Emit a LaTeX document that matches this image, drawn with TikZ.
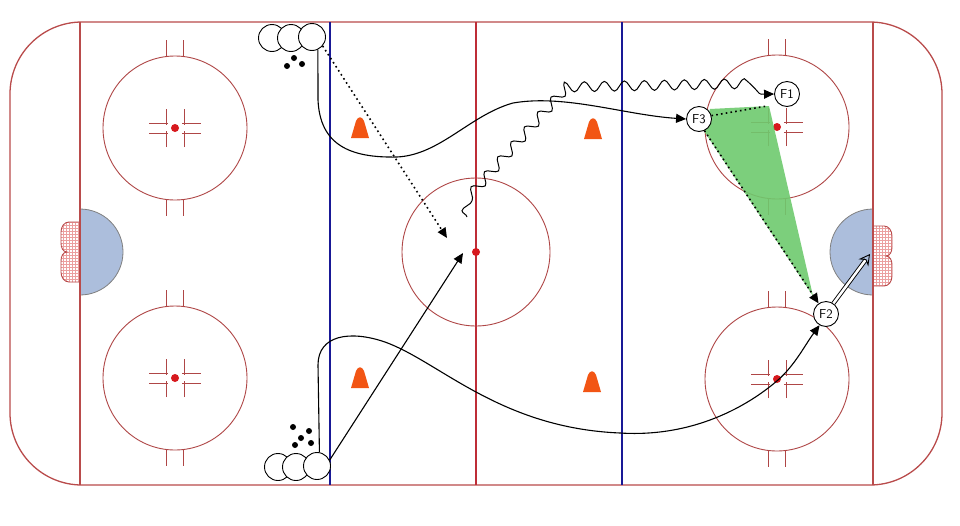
\documentclass[tikz,border=0pt]{standalone}
\usetikzlibrary{arrows.meta,decorations.pathmorphing,patterns}
\definecolor{rinkred}{RGB}{185,75,75}
\definecolor{circred}{RGB}{175,70,70}
\definecolor{dotred}{RGB}{215,25,30}
\definecolor{blueline}{RGB}{25,25,150}
\definecolor{centerred}{RGB}{190,45,55}
\definecolor{creaseblue}{RGB}{172,190,220}
\definecolor{passgreen}{RGB}{110,202,110}
\definecolor{coneorange}{RGB}{242,85,20}
\definecolor{netpink}{RGB}{235,160,160}
\begin{document}
\begin{tikzpicture}[x=1pt,y=-1pt,
  player/.style={circle, draw=black, fill=white, line width=0.9pt, minimum size=27pt, inner sep=0pt},
  fnode/.style={circle, draw=black, fill=white, line width=0.9pt, minimum size=25pt, inner sep=0pt, font=\sffamily\fontsize{13}{13}\selectfont},
  puck/.style={circle, fill=black, minimum size=6pt, inner sep=0pt},
  tip/.style={-{Triangle[length=10pt,width=9pt]}},
  skate/.style={draw=black, line width=1.1pt, tip},
  dotpass/.style={draw=black, line width=1.6pt, dash pattern=on 1.6pt off 3.2pt},
  wave/.style={draw=black, line width=1pt, tip, decorate, decoration={snake, amplitude=5pt, segment length=20pt, post length=12pt}},
  shot/.style={draw=black, line width=0.9pt, double=white, double distance=2.5pt, -{Stealth[open,length=11pt,width=12pt]}},
  faceoff/.pic={
    \draw[circred, line width=0.9pt] (0,0) circle[radius=72pt];
    \draw[circred, line width=0.9pt]
      (-8.5,-71) -- (-8.5,-88) (8.5,-71) -- (8.5,-88)
      (-8.5,71) -- (-8.5,88) (8.5,71) -- (8.5,88)
      (-26,-5) -- (-7,-5) (7,-5) -- (26,-5)
      (-26,5) -- (-7,5) (7,5) -- (26,5)
      (-9,-19) -- (-9,-3) (9,-19) -- (9,-3)
      (-9,19) -- (-9,3) (9,19) -- (9,3);
    \fill[dotred] (0,0) circle[radius=4pt];
  },
  cone/.pic={
    \fill[coneorange] (-9,10) -- (-4,-7) .. controls (-2,-12) and (2,-12) .. (4,-7) -- (9,10) -- cycle;
  },
  netL/.pic={
    \fill[white] (0,-30) -- (-11,-30) to[out=180,in=90] (-19,-20) -- (-19,-9) to[out=-90,in=180] (-13,0) to[out=180,in=90] (-19,9) -- (-19,20) to[out=-90,in=180] (-11,30) -- (0,30) -- cycle;
    \fill[pattern=grid, pattern color=netpink] (0,-30) -- (-11,-30) to[out=180,in=90] (-19,-20) -- (-19,-9) to[out=-90,in=180] (-13,0) to[out=180,in=90] (-19,9) -- (-19,20) to[out=-90,in=180] (-11,30) -- (0,30) -- cycle;
    \draw[rinkred, line width=0.9pt] (0,-30) -- (-11,-30) to[out=180,in=90] (-19,-20) -- (-19,-9) to[out=-90,in=180] (-13,0) to[out=180,in=90] (-19,9) -- (-19,20) to[out=-90,in=180] (-11,30) -- (0,30);
  },
  netR/.pic={
    \fill[white] (0,-30) -- (11,-30) to[out=0,in=90] (19,-20) -- (19,-9) to[out=-90,in=0] (13,0) to[out=0,in=90] (19,9) -- (19,20) to[out=-90,in=0] (11,30) -- (0,30) -- cycle;
    \fill[pattern=grid, pattern color=netpink] (0,-30) -- (11,-30) to[out=0,in=90] (19,-20) -- (19,-9) to[out=-90,in=0] (13,0) to[out=0,in=90] (19,9) -- (19,20) to[out=-90,in=0] (11,30) -- (0,30) -- cycle;
    \draw[rinkred, line width=0.9pt] (0,-30) -- (11,-30) to[out=0,in=90] (19,-20) -- (19,-9) to[out=-90,in=0] (13,0) to[out=0,in=90] (19,9) -- (19,20) to[out=-90,in=0] (11,30) -- (0,30);
  }
]
\useasboundingbox (0,0) rectangle (960,525);
\fill[white] (0,0) rectangle (960,525);

% creases
\begin{scope}
  \clip (80,200) rectangle (140,305);
  \draw[gray, line width=0.8pt, fill=creaseblue] (80,252) circle[radius=43pt];
\end{scope}
\begin{scope}
  \clip (820,200) rectangle (873,305);
  \draw[gray, line width=0.8pt, fill=creaseblue] (873,252) circle[radius=43pt];
\end{scope}
% nets
\pic at (80,252) {netL};
\pic at (873,256) {netR};

% rink
\draw[rinkred, line width=1.3pt, rounded corners=72pt] (10,22) rectangle (942,485);
\draw[rinkred, line width=1.6pt] (80,22) -- (80,485) (873,22) -- (873,485);
\draw[blueline, line width=2.4pt] (330,22) -- (330,485) (622,22) -- (622,485);
\draw[centerred, line width=2.6pt] (476,22) -- (476,485);

% circles
\pic at (175,128) {faceoff};
\pic at (175,378) {faceoff};
\pic at (777,127) {faceoff};
\pic at (777,379) {faceoff};
\draw[circred, line width=0.9pt] (476,252) circle[radius=74pt];
\fill[dotred] (476,252) circle[radius=4pt];

% cones
\pic at (360,128) {cone};
\pic at (593,129) {cone};
\pic at (360,378) {cone};
\pic at (592,382) {cone};

% green passing lane
\fill[passgreen, opacity=0.9] (710,109) -- (769,106) -- (813,296) -- (704,131) -- cycle;

% players and pucks
\node[player] (pA1) at (272,38) {};
\node[player] (pA2) at (291,38) {};
\node[player] (pA3) at (312,37) {};
\node[puck] (kA1) at (287,66) {};
\node[puck] (kA2) at (294,58) {};
\node[puck] (kA3) at (302,64) {};

\node[player] (pB1) at (278,467) {};
\node[player] (pB2) at (296,467) {};
\node[player] (pB3) at (317,466) {};
\node[puck] (kB1) at (293,427) {};
\node[puck] (kB2) at (309,431) {};
\node[puck] (kB3) at (301,438) {};
\node[puck] (kB4) at (311,443) {};
\node[puck] (kB5) at (295,445) {};

\node[fnode] (F3) at (699,119) {F3};
\node[fnode] (F1) at (787,94) {F1};
\node[fnode] (F2) at (826,314) {F2};

\coordinate (recvA) at (447,238);
\coordinate (recvB) at (463,253);
\coordinate (wstart) at (467,217);
\coordinate (goal) at (870,254);
\coordinate (laneTop) at (767,106);

% skating paths
\draw[skate] (pA3.-65) -- (318,100) .. controls (320,145) and (350,158) .. (397,157)
  .. controls (440,155) and (470,115) .. (513,103) .. controls (565,94) and (625,115) .. (F3.west);
\draw[skate] (pB3.80) -- (318,365) .. controls (318,335) and (350,330) .. (385,342)
  .. controls (440,362) and (500,428) .. (620,433) .. controls (700,438) and (755,400) .. (778,380)
  .. controls (795,365) and (805,345) .. (F2.-120);

% passes
\draw[dotpass, tip] (pA3.-40) -- (recvA);
\draw[line width=1.1pt, tip] (pB3.25) -- (recvB);
\draw[dotpass] (F3.15) -- (laneTop);
\draw[dotpass, tip] (F3.-65) -- (F2.125);

% carry (wavy)
\draw[wave] (wstart) -- (467,208) -- (565,98) -- (F1.west);

% shot
\draw[shot] (F2.55) -- (goal);
\end{tikzpicture}
\end{document}
